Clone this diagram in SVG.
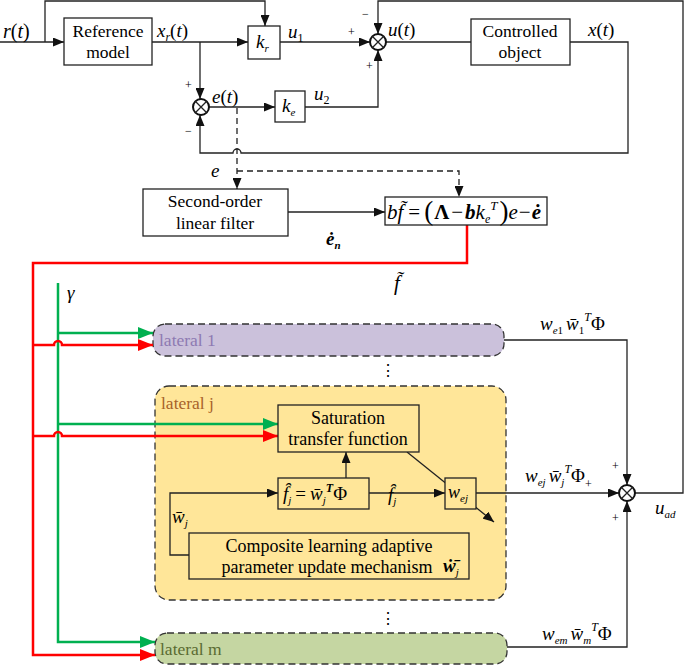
<svg xmlns="http://www.w3.org/2000/svg" width="685" height="665" viewBox="0 0 685 665" font-family="Liberation Serif, serif">
<defs>
<style>
text { font-family: 'Liberation Serif', serif; }
.t { font-size: 17.5px; }
.m { font-size: 19px; font-style: italic; }
.s { font-size: 12px; }
.box { fill: #fff; stroke: #222; stroke-width: 1.3; }
.ybox { fill: #FFE699; stroke: #222; stroke-width: 1.3; }
.ln { fill: none; stroke: #222; stroke-width: 1.3; }
.ds { fill: none; stroke: #222; stroke-width: 1.3; stroke-dasharray: 6,4; }
.rd { fill: none; stroke: #FF0000; stroke-width: 2.5; }
.gr { fill: none; stroke: #00B050; stroke-width: 2.5; }
.sum { fill: #fff; stroke: #111; stroke-width: 2; }
.lat { stroke: #333; stroke-width: 1.3; stroke-dasharray: 7,4; }
</style>
<marker id="ab" markerUnits="userSpaceOnUse" markerWidth="11" markerHeight="9" refX="11" refY="4.5" orient="auto"><path d="M0,0L11,4.5L0,9z" fill="#111"/></marker>
<marker id="ag" markerUnits="userSpaceOnUse" markerWidth="15" markerHeight="12" refX="15" refY="6" orient="auto"><path d="M0,0L15,6L0,12z" fill="#00B050"/></marker>
<marker id="ar" markerUnits="userSpaceOnUse" markerWidth="15" markerHeight="12" refX="15" refY="6" orient="auto"><path d="M0,0L15,6L0,12z" fill="#FF0000"/></marker>
</defs>
<rect width="685" height="665" fill="#fff"/>

<g id="lateral1">
<rect x="153" y="324" width="351" height="32" rx="12" fill="#CBC1DB" class="lat"/>
<text x="159" y="346" class="t" fill="#8E7AB2">lateral 1</text>
</g>
<g id="lateralj">
<rect x="155" y="386" width="351" height="214" rx="14" fill="#FFE699" class="lat"/>
<text x="161" y="409" class="t" fill="#A8622A">lateral j</text>
</g>
<g id="lateralm">
<rect x="155" y="633" width="352" height="31" rx="12" fill="#C5D6A2" class="lat"/>
<text x="160" y="655" class="t" fill="#5A6B32">lateral m</text>
</g>

<g id="connectors">
<path class="ln" d="M0,42H64" marker-end="url(#ab)"/>
<path class="ln" d="M45,42V1H265V26" marker-end="url(#ab)"/>
<path class="ln" d="M152,42H248" marker-end="url(#ab)"/>
<path class="ln" d="M200,42V99" marker-end="url(#ab)"/>
<path class="ln" d="M280,42H370" marker-end="url(#ab)"/>
<path class="ln" d="M386,42H471"/>
<path class="ln" d="M570,42H628V153H241a4,4 0 0 0 -8,0H200V115" marker-end="url(#ab)"/>
<path class="ln" d="M209,107H275" marker-end="url(#ab)"/>
<path class="ln" d="M305,107H378V50" marker-end="url(#ab)"/>
<path class="ln" d="M635,493H683V1H378V34" marker-end="url(#ab)"/>
<path class="ds" d="M237,108V189" marker-end="url(#ab)"/>
<path class="ds" d="M237,171H459V197" marker-end="url(#ab)"/>
<path class="ln" d="M288,212H385" marker-end="url(#ab)"/>
<path class="rd" d="M467,225V263H33V655H155" marker-end="url(#ar)"/>
<path class="gr" d="M58,283V642H155" marker-end="url(#ag)"/>
<path class="gr" d="M58,333H153" marker-end="url(#ag)"/>
<path class="rd" d="M33,345H54a4,4 0 0 1 8,0H153" marker-end="url(#ar)"/>
<path class="gr" d="M58,424H278" marker-end="url(#ag)"/>
<path class="rd" d="M33,436H54a4,4 0 0 1 8,0H278" marker-end="url(#ar)"/>
<path class="ln" d="M346,478V452" marker-end="url(#ab)"/>
<path class="ln" d="M369,493H445" marker-end="url(#ab)"/>
<path class="ln" d="M476,493H619" marker-end="url(#ab)"/>
<path class="ln" d="M407,452L494,522" marker-end="url(#ab)"/>
<path class="ln" d="M189,555H170V493H278" marker-end="url(#ab)"/>
<path class="ln" d="M504,340H627V485" marker-end="url(#ab)"/>
<path class="ln" d="M507,647H627V501" marker-end="url(#ab)"/>
</g>

<g id="refmodel">
<rect class="box" x="64" y="18" width="88" height="47"/>
<text class="t" x="108" y="37" text-anchor="middle">Reference</text>
<text class="t" x="108" y="58" text-anchor="middle">model</text>
</g>
<g id="kr">
<rect class="box" x="248" y="26" width="32" height="33"/>
<text class="m" x="256" y="48">k<tspan font-size="11" dy="4">r</tspan></text>
</g>
<g id="ke">
<rect class="box" x="275" y="91" width="30" height="31"/>
<text class="m" x="282" y="112">k<tspan font-size="11" dy="4">e</tspan></text>
</g>
<g id="sum1">
<circle class="sum" cx="201" cy="107" r="8"/>
<path class="ln" d="M195.3,101.3L206.7,112.7M206.7,101.3L195.3,112.7"/>
</g>
<g id="sum2">
<circle class="sum" cx="378" cy="42" r="8"/>
<path class="ln" d="M372.3,36.3L383.7,47.7M383.7,36.3L372.3,47.7"/>
</g>
<g id="sum3">
<circle class="sum" cx="627" cy="493" r="8"/>
<path class="ln" d="M621.3,487.3L632.7,498.7M632.7,487.3L621.3,498.7"/>
</g>
<g id="plant">
<rect class="box" x="471" y="19" width="99" height="46"/>
<text class="t" x="520" y="37" text-anchor="middle">Controlled</text>
<text class="t" x="520" y="58" text-anchor="middle">object</text>
</g>
<g id="filter">
<rect class="box" x="143" y="189" width="145" height="47"/>
<text class="t" x="215" y="207" text-anchor="middle">Second-order</text>
<text class="t" x="215" y="229" text-anchor="middle">linear filter</text>
</g>
<g id="formula">
<rect class="box" x="385" y="197" width="162" height="28"/>
<text x="387" y="219" font-size="21"><tspan font-style="italic">b</tspan><tspan font-style="italic">f̃</tspan><tspan dx="5">=</tspan><tspan dx="4" font-size="27" dy="1">(</tspan><tspan font-weight="bold" dy="-1" dx="1">Λ</tspan><tspan dx="2">−</tspan><tspan dx="2" font-weight="bold" font-style="italic">b</tspan><tspan font-style="italic">k</tspan><tspan font-style="italic" font-size="12" dy="4">e</tspan><tspan font-style="italic" font-size="13" dy="-13">T</tspan><tspan dx="2" font-size="27" dy="10">)</tspan><tspan font-style="italic" dy="-1">e</tspan><tspan dx="1">−</tspan><tspan dx="1" font-weight="bold" font-style="italic">ė</tspan></text>
</g>
<g id="saturation">
<rect class="ybox" x="278" y="405" width="141" height="47"/>
<text x="348" y="424" text-anchor="middle" font-size="18">Saturation</text>
<text x="348" y="445" text-anchor="middle" font-size="18">transfer function</text>
</g>
<g id="fhat">
<rect class="ybox" x="278" y="478" width="91" height="31"/>
<text x="283" y="500" font-size="19"><tspan font-style="italic">f̑</tspan><tspan font-style="italic" font-size="11" dy="4">j</tspan><tspan dx="4" dy="-4">=</tspan><tspan dx="4" font-style="italic">w̄</tspan><tspan font-style="italic" font-size="11" dy="4">j</tspan><tspan font-style="italic" font-weight="bold" font-size="12" dy="-12">T</tspan><tspan dy="8">Φ</tspan></text>
</g>
<g id="wej">
<rect class="ybox" x="445" y="478" width="31" height="31"/>
<text class="m" x="448" y="498" style="font-size:18px">w<tspan font-size="11" dy="4">ej</tspan></text>
</g>
<g id="composite">
<rect class="ybox" x="189" y="533" width="280" height="46"/>
<text x="329" y="552" text-anchor="middle" font-size="18">Composite learning adaptive</text>
<text x="327" y="573" text-anchor="middle" font-size="18">parameter update mechanism</text>
<text x="443" y="572" font-size="19" font-style="italic" font-weight="bold">ẇ̄<tspan font-size="11" font-weight="normal" dy="4">j</tspan></text>
</g>

<g id="labels">
<text class="m" x="3" y="38" style="font-size:20px">r<tspan font-style="normal">(</tspan>t<tspan font-style="normal">)</tspan></text>
<text class="m" x="157" y="37">x<tspan font-size="12" dy="4">r</tspan><tspan dy="-4" font-style="normal">(</tspan>t<tspan font-style="normal">)</tspan></text>
<text class="m" x="288" y="38">u<tspan font-size="12" font-style="normal" dy="4">1</tspan></text>
<text class="m" x="388" y="36">u<tspan font-style="normal">(</tspan>t<tspan font-style="normal">)</tspan></text>
<text class="m" x="588" y="36">x<tspan font-style="normal">(</tspan>t<tspan font-style="normal">)</tspan></text>
<text class="m" x="212" y="103">e<tspan font-style="normal">(</tspan>t<tspan font-style="normal">)</tspan></text>
<text class="m" x="314" y="100">u<tspan font-size="12" font-style="normal" dy="4">2</tspan></text>
<text class="s" x="348" y="36">+</text>
<text class="s" x="362" y="18">−</text>
<text class="s" x="366" y="70">+</text>
<text class="s" x="185" y="89">+</text>
<text class="s" x="185" y="135">−</text>
<text class="m" x="211" y="177">e</text>
<text x="326" y="245" font-size="19" font-style="italic" font-weight="bold">ė<tspan font-size="11" dy="4">n</tspan></text>
<text class="m" x="394" y="290" style="font-size:21px">f̃</text>
<text class="m" x="67" y="299">γ</text>
<text class="m" x="540" y="330">w<tspan font-size="11" dy="4">e<tspan font-style="normal">1</tspan></tspan><tspan dx="3" dy="-4">w̄</tspan><tspan font-size="11" font-style="normal" dy="4">1</tspan><tspan font-size="12" dy="-13">T</tspan><tspan font-style="normal" dy="9">Φ</tspan></text>
<text class="m" x="525" y="482">w<tspan font-size="11" dy="4">ej</tspan><tspan dx="3" dy="-4">w̄</tspan><tspan font-size="11" dy="4">j</tspan><tspan font-size="12" dy="-13">T</tspan><tspan font-style="normal" dy="9">Φ</tspan><tspan font-style="normal" font-size="12" dy="6">+</tspan></text>
<text class="s" x="612" y="470">+</text>
<text class="s" x="612" y="522">+</text>
<text class="m" x="542" y="640">w<tspan font-size="11" dy="4">em</tspan><tspan dx="3" dy="-4">w̄</tspan><tspan font-size="11" dy="4">m</tspan><tspan font-size="12" dy="-13">T</tspan><tspan font-style="normal" dy="9">Φ</tspan></text>
<text class="m" x="655" y="514">u<tspan font-size="11" dy="4">ad</tspan></text>
<text class="m" x="388" y="501">f̑<tspan font-size="11" dy="4">j</tspan></text>
<text class="m" x="172" y="523">w̄<tspan font-size="11" dy="4">j</tspan></text>
<text x="380" y="376" font-size="16">⋮</text>
<text x="380" y="624" font-size="16">⋮</text>
</g>
</svg>
